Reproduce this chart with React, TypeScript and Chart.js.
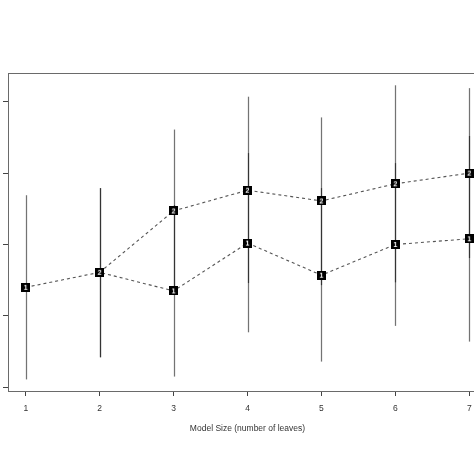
import React, { useEffect, useRef } from "react";
import { Chart, registerables } from "chart.js";

Chart.register(...registerables);

const xValues = [1, 2, 3, 4, 5, 6, 7];
const xTickValues = [1, 2, 3, 4, 5, 6, 7];
const yTickValues = [0, 1, 2, 3, 4];
const model1Mean = [1.4, 1.61, 1.35, 2.02, 1.57, 2.0, 2.08];
const model1Low = [0.11, 0.42, 0.15, 0.77, 0.36, 0.86, 0.64];
const model1High = [2.69, 2.79, 2.55, 3.28, 2.79, 3.14, 3.52];
const model2Mean = [null, 1.61, 2.47, 2.76, 2.61, 2.85, 3.0];
const model2Low = [null, 0.42, 1.34, 1.46, 1.43, 1.47, 1.81];
const model2High = [null, 2.79, 3.61, 4.07, 3.78, 4.23, 4.19];
const xLabel = "Model Size (number of leaves)";

const FONT = "'Liberation Sans', Arial, Helvetica, sans-serif";

function makeMarker(label: string) {
  const c = document.createElement("canvas");
  c.width = 9;
  c.height = 9;
  const ctx = c.getContext("2d")!;
  ctx.fillStyle = "#000";
  ctx.fillRect(0, 0, 9, 9);
  ctx.fillStyle = "#fff";
  ctx.font = `bold 7px ${FONT}`;
  ctx.textAlign = "center";
  ctx.textBaseline = "middle";
  ctx.fillText(label, 4.5, 5);
  return c;
}

function toPoints(vals: (number | null)[]) {
  const pts: { x: number; y: number }[] = [];
  vals.forEach((v, i) => {
    if (v !== null) pts.push({ x: xValues[i], y: v });
  });
  return pts;
}

const errorBarPlugin = {
  id: "errorBars",
  beforeDatasetsDraw(chart: any) {
    const { ctx, chartArea, scales } = chart;
    ctx.save();
    ctx.strokeStyle = "#6a6a6a";
    ctx.lineWidth = 1;
    ctx.strokeRect(
      Math.round(chartArea.left) + 0.5,
      Math.round(chartArea.top) + 0.5,
      Math.round(chartArea.right - chartArea.left),
      Math.round(chartArea.bottom - chartArea.top)
    );
    ctx.strokeStyle = "rgba(0,0,0,0.55)";
    ctx.lineWidth = 1.25;
    const bars = [
      [model1Low, model1High],
      [model2Low, model2High],
    ];
    bars.forEach(([lo, hi]) => {
      xValues.forEach((xv, i) => {
        const l = lo[i];
        const h = hi[i];
        if (l === null || h === null) return;
        const px = Math.round(scales.x.getPixelForValue(xv)) + 0.5;
        ctx.beginPath();
        ctx.moveTo(px, scales.y.getPixelForValue(l as number));
        ctx.lineTo(px, scales.y.getPixelForValue(h as number));
        ctx.stroke();
      });
    });
    ctx.restore();
  },
};

export default function App() {
  const ref = useRef<HTMLCanvasElement | null>(null);
  useEffect(() => {
    if (!ref.current) return;
    const chart = new Chart(ref.current, {
      type: "line",
      data: {
        datasets: [
          {
            label: "2",
            data: toPoints(model2Mean),
            borderColor: "#555",
            borderWidth: 1.1,
            borderDash: [3, 3],
            pointStyle: makeMarker("2") as any,
            pointRadius: 5,
            fill: false,
          },
          {
            label: "1",
            data: toPoints(model1Mean),
            borderColor: "#555",
            borderWidth: 1.1,
            borderDash: [3, 3],
            pointStyle: makeMarker("1") as any,
            pointRadius: 5,
            fill: false,
          },
        ],
      },
      options: {
        animation: false,
        responsive: false,
        devicePixelRatio: 1,
        layout: { padding: { top: 73, right: 13, left: 0, bottom: 0 } },
        plugins: { legend: { display: false }, tooltip: { enabled: false } },
        scales: {
          x: {
            type: "linear",
            min: 0.76,
            max: 7.24,
            afterBuildTicks: (s: any) => {
              s.ticks = xTickValues.map((v) => ({ value: v }));
            },
            afterFit: (s: any) => {
              s.height = 83;
            },
            border: { display: false },
            grid: {
              drawOnChartArea: false,
              drawTicks: true,
              tickLength: 5,
              color: "#444",
            },
            ticks: {
              font: { family: FONT, size: 8.5 },
              color: "#333",
              padding: 8,
              maxRotation: 0,
              callback: (v: any) => String(v),
            },
            title: {
              display: true,
              text: xLabel,
              font: { family: FONT, size: 8.5 },
              color: "#333",
              padding: { top: 0, bottom: 40.5 },
            },
          },
          y: {
            type: "linear",
            min: -0.052,
            max: 4.402,
            afterBuildTicks: (s: any) => {
              s.ticks = yTickValues.map((v) => ({ value: v }));
            },
            afterFit: (s: any) => {
              s.width = 8;
            },
            border: { display: false },
            grid: {
              drawOnChartArea: false,
              drawTicks: true,
              tickLength: 5,
              color: "#444",
            },
            ticks: { display: false },
          },
        },
      },
      plugins: [errorBarPlugin],
    });
    return () => chart.destroy();
  }, []);
  return (
    <div
      style={{
        position: "fixed",
        left: 0,
        top: 0,
        width: 474,
        height: 474,
        overflow: "hidden",
        background: "#fff",
      }}
    >
      <canvas ref={ref} width={500} height={474} style={{ display: "block" }} />
    </div>
  );
}
